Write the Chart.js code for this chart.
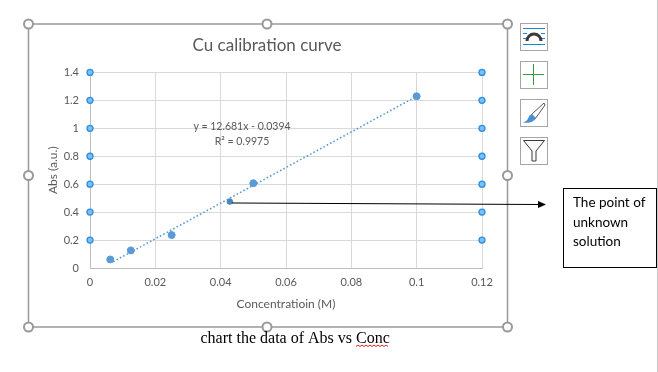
<!DOCTYPE html>
<html>
<head>
<meta charset="utf-8">
<title>Cu calibration curve</title>
<script src="https://cdn.jsdelivr.net/npm/chart.js@4"></script>
<style>
    html, body { margin: 0; padding: 0; background: #fff; overflow: hidden; }
    canvas { display: block; }
</style>
</head>
<body>
<canvas id="chart" width="658" height="372"></canvas>
<script>
const concValues = [0.0062, 0.0125, 0.025, 0.05, 0.1];
const absValues = [0.061, 0.126, 0.236, 0.607, 1.229];
const unknownConc = [0.0428];
const unknownAbs = [0.476];
const trendConc = [0.0071, 0.1];
const trendAbs = [0.045, 1.229];
const xTicks = [0, 0.02, 0.04, 0.06, 0.08, 0.1, 0.12];
const xTickLabels = ['0', '0.02', '0.04', '0.06', '0.08', '0.1', '0.12'];
const yTicks = [0, 0.2, 0.4, 0.6, 0.8, 1, 1.2, 1.4];
const yTickLabels = ['0', '0.2', '0.4', '0.6', '0.8', '1', '1.2', '1.4'];
const equationLines = ['y = 12.681x - 0.0394', 'R² = 0.9975'];
const calloutLines = ['The point of', 'unknown', 'solution'];
const captionText = 'chart the data of Abs vs ';
const captionTypo = 'Conc';

const GREY_TEXT = '#595959';
const BLUE = '#5b9bd5';
const FONT = 'Lato';

// selection handles sit on the gridlines at both ends of the y axis
const handlePoints = [];
yTicks.slice(1).forEach(y => {
    handlePoints.push({ x: 0, y: y });
    handlePoints.push({ x: 0.12, y: y });
});

function toPoints(xs, ys) {
    return xs.map((x, i) => ({ x: x, y: ys[i] }));
}

function drawHandle(ctx, x, y) {
    ctx.beginPath();
    ctx.arc(x, y, 4.5, 0, Math.PI * 2);
    ctx.fillStyle = '#fff';
    ctx.fill();
    ctx.lineWidth = 2;
    ctx.strokeStyle = '#999';
    ctx.stroke();
}

function drawFrame(ctx) {
    ctx.strokeStyle = '#999';
    ctx.lineWidth = 1.5;
    ctx.strokeRect(28.5, 24, 479, 303);
    [[28.5, 24], [267, 24], [507.5, 24], [28.5, 175.5], [507.5, 175.5], [28.5, 327], [267, 327], [507.5, 327]]
        .forEach(p => drawHandle(ctx, p[0], p[1]));

    // edge of the window
    ctx.strokeStyle = '#c8c8c8';
    ctx.lineWidth = 1;
    ctx.beginPath();
    ctx.moveTo(657.5, 0);
    ctx.lineTo(657.5, 372);
    ctx.stroke();
}

function drawIcons(ctx) {
    [23.5, 61.5, 99.5, 137.5].forEach(y => {
        ctx.strokeStyle = '#a6a6a6';
        ctx.lineWidth = 1;
        ctx.fillStyle = '#fff';
        ctx.fillRect(520.5, y, 27, 27);
        ctx.strokeRect(520.5, y, 27, 27);
    });

    // layout options
    ctx.strokeStyle = '#1c86d0';
    ctx.lineWidth = 1;
    ctx.beginPath();
    [28.5, 44.5].forEach(y => { ctx.moveTo(523, y); ctx.lineTo(545, y); });
    [33.5, 38.5].forEach(y => {
        ctx.moveTo(523, y); ctx.lineTo(527, y);
        ctx.moveTo(541, y); ctx.lineTo(545, y);
    });
    ctx.stroke();
    ctx.strokeStyle = '#3b3b3b';
    ctx.lineWidth = 3;
    ctx.beginPath();
    ctx.arc(534, 41, 7, Math.PI, 0);
    ctx.stroke();

    // chart elements
    ctx.strokeStyle = '#2f9e44';
    ctx.lineWidth = 1;
    ctx.beginPath();
    ctx.moveTo(523, 74.5); ctx.lineTo(544, 74.5);
    ctx.moveTo(533.5, 64); ctx.lineTo(533.5, 85);
    ctx.stroke();

    // chart styles
    ctx.strokeStyle = '#555';
    ctx.lineWidth = 1;
    ctx.beginPath();
    ctx.moveTo(531, 115); ctx.lineTo(544, 103); ctx.lineTo(545, 105); ctx.lineTo(535, 119);
    ctx.stroke();
    ctx.fillStyle = '#4a90d0';
    ctx.beginPath();
    ctx.moveTo(523, 122.5);
    ctx.quadraticCurveTo(528, 121, 529, 116);
    ctx.lineTo(532, 114);
    ctx.lineTo(536, 118);
    ctx.quadraticCurveTo(533, 124, 523, 122.5);
    ctx.fill();

    // chart filters
    ctx.strokeStyle = '#3b3b3b';
    ctx.fillStyle = '#fafafa';
    ctx.lineWidth = 1;
    ctx.beginPath();
    ctx.moveTo(523.5, 140.5);
    ctx.lineTo(544.5, 140.5);
    ctx.lineTo(536, 151);
    ctx.lineTo(536, 161);
    ctx.lineTo(532, 161);
    ctx.lineTo(532, 151);
    ctx.closePath();
    ctx.fill();
    ctx.stroke();
}

function drawArrow(ctx, chart) {
    const startX = chart.scales.x.getPixelForValue(unknownConc[0]);
    const startY = chart.scales.y.getPixelForValue(unknownAbs[0]);
    ctx.strokeStyle = '#000';
    ctx.lineWidth = 1;
    ctx.beginPath();
    ctx.moveTo(startX + 2, startY + 1.5);
    ctx.lineTo(540, 204.5);
    ctx.stroke();
    ctx.fillStyle = '#000';
    ctx.beginPath();
    ctx.moveTo(546, 204.5);
    ctx.lineTo(538, 201);
    ctx.lineTo(538, 208);
    ctx.closePath();
    ctx.fill();
}

function drawTexts(ctx) {
    ctx.textBaseline = 'middle';
    ctx.textAlign = 'center';
    ctx.fillStyle = GREY_TEXT;
    ctx.font = '10.5px ' + FONT;
    ctx.fillText(equationLines[0], 242, 127);
    ctx.fillText(equationLines[1], 242, 142);

    // text box on the right
    ctx.fillStyle = '#fff';
    ctx.fillRect(563.5, 188.5, 93, 79);
    ctx.strokeStyle = '#000';
    ctx.lineWidth = 1;
    ctx.strokeRect(563.5, 188.5, 93, 79);
    ctx.textAlign = 'left';
    ctx.fillStyle = '#000';
    ctx.font = '13.5px ' + FONT;
    ctx.fillText(calloutLines[0], 573, 203);
    ctx.fillText(calloutLines[1], 573, 223);
    ctx.fillText(calloutLines[2], 573, 242);

    // caption under the chart, with the spell check underline
    ctx.font = '16px "Liberation Serif"';
    ctx.textBaseline = 'alphabetic';
    ctx.fillText(captionText, 200.5, 343);
    const typoX = 200.5 + ctx.measureText(captionText).width;
    const typoW = ctx.measureText(captionTypo).width;
    ctx.fillText(captionTypo, typoX, 343);
    ctx.strokeStyle = '#e02020';
    ctx.lineWidth = 1;
    ctx.beginPath();
    for (let i = 0; i * 2 <= typoW; i++) {
        const px = typoX + i * 2;
        const py = i % 2 ? 345 : 346.5;
        if (i === 0) ctx.moveTo(px, py);
        else ctx.lineTo(px, py);
    }
    ctx.stroke();
}

const overlayPlugin = {
    id: 'overlay',
    afterDraw(chart) {
        const ctx = chart.ctx;
        ctx.save();
        drawFrame(ctx);
        drawIcons(ctx);
        drawArrow(ctx, chart);
        drawTexts(ctx);
        ctx.restore();
    }
};

new Chart(document.getElementById('chart').getContext('2d'), {
    type: 'scatter',
    data: {
        datasets: [
            {
                label: 'Trendline',
                data: toPoints(trendConc, trendAbs),
                showLine: true,
                borderColor: BLUE,
                borderWidth: 1.6,
                borderDash: [1.6, 2.2],
                pointRadius: 0
            },
            {
                label: 'Abs',
                data: toPoints(concValues, absValues),
                backgroundColor: BLUE,
                borderColor: BLUE,
                pointRadius: 3.5
            },
            {
                label: 'Unknown',
                data: toPoints(unknownConc, unknownAbs),
                backgroundColor: '#4a86bf',
                borderColor: '#4a86bf',
                pointRadius: 2.8
            },
            {
                label: 'Gridline handles',
                data: handlePoints,
                backgroundColor: '#7cc0f5',
                borderColor: '#2b8ee0',
                borderWidth: 1.3,
                pointRadius: 3,
                clip: false
            }
        ]
    },
    options: {
        responsive: false,
        animation: false,
        layout: { padding: { left: 52, right: 176, top: 0, bottom: 60 } },
        plugins: {
            legend: { display: false },
            tooltip: { enabled: false },
            title: {
                display: true,
                text: 'Cu calibration curve',
                color: GREY_TEXT,
                font: { family: FONT, size: 17, weight: 'normal' },
                padding: { top: 35, bottom: 17 }
            }
        },
        scales: {
            x: {
                type: 'linear',
                min: 0,
                max: 0.12,
                afterFit(scale) { scale.height = 44; },
                afterBuildTicks(scale) { scale.ticks = xTicks.map(v => ({ value: v })); },
                grid: { color: '#d9d9d9', drawTicks: false },
                border: { color: '#bfbfbf' },
                ticks: {
                    color: GREY_TEXT,
                    padding: 8,
                    maxRotation: 0,
                    autoSkip: false,
                    font: { family: FONT, size: 11 },
                    callback: (value, i) => xTickLabels[i]
                },
                title: {
                    display: true,
                    text: 'Concentratioin (M)',
                    color: GREY_TEXT,
                    font: { family: FONT, size: 12 },
                    padding: { top: 0, bottom: 1 }
                }
            },
            y: {
                type: 'linear',
                min: 0,
                max: 1.4,
                afterFit(scale) { scale.width = 38; },
                afterBuildTicks(scale) { scale.ticks = yTicks.map(v => ({ value: v })); },
                grid: { color: '#d9d9d9', drawTicks: false },
                border: { color: '#bfbfbf' },
                ticks: {
                    color: GREY_TEXT,
                    padding: 11,
                    autoSkip: false,
                    font: { family: FONT, size: 11 },
                    callback: (value, i) => yTickLabels[i]
                },
                title: {
                    display: true,
                    text: 'Abs (a.u.)',
                    color: GREY_TEXT,
                    font: { family: FONT, size: 12 },
                    padding: { top: -6, bottom: 0 }
                }
            }
        }
    },
    plugins: [overlayPlugin]
});
</script>
</body>
</html>
